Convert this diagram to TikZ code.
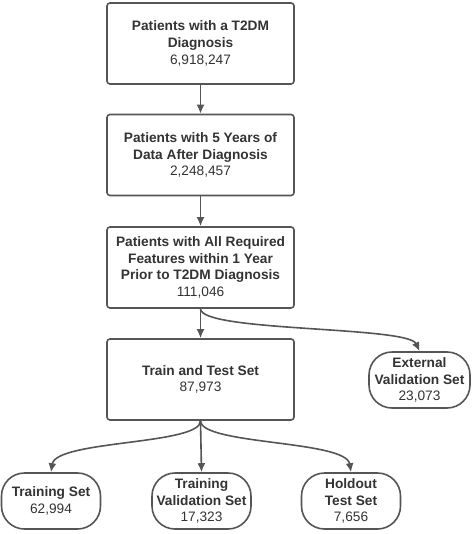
\documentclass[tikz,border=0pt]{standalone}
\usepackage{fontspec}
\setmainfont{Liberation Sans}
\usetikzlibrary{arrows,arrows.meta}
\definecolor{linegray}{HTML}{555555}
\definecolor{textgray}{HTML}{333333}
\begin{document}
\begin{tikzpicture}[x=1pt,y=-1pt,
    box/.style={draw=linegray,line width=1.6pt,rounded corners=3pt,minimum width=187pt,minimum height=81pt,align=center,inner sep=0pt,text=textgray,font=\fontsize{13.7}{16.8}\selectfont},
    pill/.style={draw=linegray,line width=1.6pt,rounded corners=23pt,minimum width=99pt,minimum height=56pt,align=center,inner sep=0pt,text=textgray,font=\fontsize{13.7}{16.8}\selectfont},
    flow/.style={-{Latex[length=9pt,width=8pt]},draw=linegray,line width=1.6pt}]
    \useasboundingbox (0,0) rectangle (474,534);
    % main column
    \node[box] (patients) at (200.5,43.5) {\textbf{Patients with a T2DM}\\\textbf{Diagnosis}\\6,918,247};
    \node[box] (fiveyears) at (200.5,155) {\textbf{Patients with 5 Years of}\\\textbf{Data After Diagnosis}\\2,248,457};
    \node[box] (features) at (200.5,267.5) {\textbf{Patients with All Required}\\\textbf{Features within 1 Year}\\\textbf{Prior to T2DM Diagnosis}\\111,046};
    \node[box] (traintest) at (200.5,379.5) {\textbf{Train and Test Set}\\87,973};
    % external set
    \node[pill,minimum width=101pt] (external) at (419.5,380) {\textbf{External}\\\textbf{Validation Set}\\23,073};
    % splits
    \node[pill] (training) at (51,501) {\textbf{Training Set}\\62,994};
    \node[pill] (validation) at (201.5,501) {\textbf{Training}\\\textbf{Validation Set}\\17,323};
    \node[pill] (holdout) at (351,501) {\textbf{Holdout}\\\textbf{Test Set}\\7,656};
    % arrows
    \draw[flow] (patients) -- (fiveyears);
    \draw[flow] (fiveyears) -- (features);
    \draw[flow] (features) -- (traintest);
    \draw[flow] (features.south) .. controls (201,332) and (408,326) .. (external.north);
    \draw[flow] (traintest.south) .. controls (201,445) and (56,440) .. (training.north);
    \draw[flow] (traintest.south) -- (validation.north);
    \draw[flow] (traintest.south) .. controls (201,445) and (346,440) .. (holdout.north);
\end{tikzpicture}
\end{document}
